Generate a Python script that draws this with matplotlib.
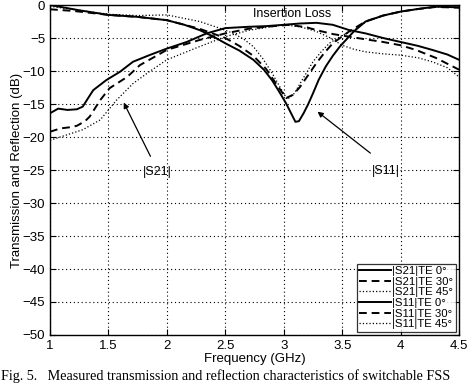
import numpy as np
import matplotlib.pyplot as plt

plt.rcParams['font.family'] = ['Liberation Sans', 'DejaVu Sans']

# |S21| transmission, TE 0/30/45 deg
f21_0 = [1.0, 1.07, 1.15, 1.23, 1.28, 1.33, 1.37, 1.48, 1.6, 1.71, 1.85, 2.0, 2.17, 2.34, 2.5,
         2.7, 2.85, 3.0, 3.14, 3.28, 3.42, 3.56, 3.7, 3.85, 4.0, 4.15, 4.27, 4.4, 4.5]
s21_0 = [-16.4, -15.7, -15.9, -15.8, -15.4, -14.0, -12.9, -11.4, -10.1, -8.6, -7.6, -6.6, -5.6, -4.3, -3.5,
         -3.3, -3.2, -3.0, -2.8, -2.7, -3.0, -3.8, -4.3, -5.0, -5.6, -6.2, -6.8, -7.5, -8.3]

f21_30 = [1.0, 1.09, 1.18, 1.23, 1.3, 1.34, 1.43, 1.51, 1.66, 1.77, 2.0, 2.28, 2.5,
          2.7, 2.85, 3.05, 3.2, 3.28, 3.42, 3.56, 3.7, 3.85, 4.0, 4.13, 4.3, 4.5]
s21_30 = [-19.2, -18.7, -18.5, -18.3, -17.6, -16.9, -14.4, -12.6, -10.9, -9.1, -6.8, -5.3, -4.3,
          -3.6, -3.3, -3.0, -3.4, -3.8, -4.4, -4.8, -5.2, -5.6, -6.1, -6.8, -8.0, -9.8]

f21_45 = [1.0, 1.14, 1.28, 1.43, 1.57, 1.71, 1.85, 2.0, 2.28, 2.5, 2.71, 3.0, 3.14, 3.28,
          3.4, 3.5, 3.6, 3.7, 3.85, 4.0, 4.15, 4.27, 4.4, 4.5]
s21_45 = [-20.5, -19.7, -18.9, -17.4, -14.4, -11.9, -10.1, -8.3, -6.3, -4.8, -3.8, -3.0, -3.3, -4.0,
          -5.0, -6.1, -6.7, -7.1, -7.4, -7.6, -8.0, -8.6, -9.5, -10.9]

# |S11| reflection, TE 0/30/45 deg
f11_0 = [1.0, 1.25, 1.5, 1.75, 2.0, 2.15, 2.28, 2.4, 2.5, 2.62, 2.74, 2.83, 2.9, 2.96, 3.02, 3.06,
         3.1, 3.13, 3.17, 3.21, 3.25, 3.3, 3.36, 3.42, 3.48, 3.6, 3.7, 3.85, 4.0, 4.15, 4.3, 4.5]
s11_0 = [0.0, -0.8, -1.5, -1.8, -2.3, -3.0, -3.8, -4.8, -5.8, -6.9, -8.3, -9.8, -11.4, -13.1, -14.9, -16.3,
         -17.7, -17.6, -16.4, -15.0, -13.4, -11.3, -9.3, -7.7, -6.3, -4.0, -2.5, -1.6, -1.0, -0.6, -0.25, -0.35]

f11_30 = [1.0, 1.2, 1.5, 1.75, 2.0, 2.28, 2.5, 2.62, 2.74, 2.85, 2.93, 3.02, 3.08, 3.14, 3.21,
          3.28, 3.35, 3.42, 3.56, 3.7, 3.85, 4.0, 4.15, 4.3, 4.5]
s11_30 = [-0.65, -0.9, -1.5, -1.8, -2.3, -3.6, -5.0, -6.2, -7.7, -9.7, -11.8, -14.1, -13.6, -12.4, -10.6,
          -8.8, -7.2, -5.8, -4.0, -2.5, -1.6, -1.0, -0.6, -0.3, -0.4]

f11_45 = [1.0, 1.25, 1.5, 1.75, 2.0, 2.28, 2.45, 2.57, 2.66, 2.74, 2.82, 2.9, 2.96, 3.03,
          3.09, 3.14, 3.2, 3.25, 3.32, 3.39, 3.5, 3.6, 3.7, 3.85, 4.0, 4.15, 4.3, 4.5]
s11_45 = [-0.2, -0.8, -1.4, -1.6, -1.5, -2.5, -3.5, -4.3, -5.2, -6.3, -8.1, -10.3, -12.2, -14.3,
          -13.4, -11.9, -10.1, -8.6, -7.1, -5.8, -4.6, -3.8, -2.6, -1.6, -1.0, -0.6, -0.3, -0.4]

xticks = [1, 1.5, 2, 2.5, 3, 3.5, 4, 4.5]
yticks = list(range(-50, 1, 5))

fig = plt.figure(figsize=(4.74, 3.88), dpi=100)
ax = fig.add_axes([0.1055, 0.1366, 0.8629, 0.8505])

lw = 1.4
ax.plot(f21_0, s21_0, 'k-', lw=lw, label='|S21|TE 0°')
ax.plot(f21_30, s21_30, 'k--', lw=lw, dashes=(4, 2.5), label='|S21|TE 30°')
ax.plot(f21_45, s21_45, 'k:', lw=0.9, label='|S21|TE 45°')
ax.plot(f11_0, s11_0, 'k-', lw=lw, label='|S11|TE 0°')
ax.plot(f11_30, s11_30, 'k--', lw=lw, dashes=(4, 2.5), label='|S11|TE 30°')
ax.plot(f11_45, s11_45, 'k:', lw=0.9, label='|S11|TE 45°')

ax.set_xlim(1, 4.5)
ax.set_ylim(-50, 0)
ax.set_xticks(xticks)
ax.set_xticklabels(['1', '1.5', '2', '2.5', '3', '3.5', '4', '4.5'])
ax.set_yticks(yticks)
ax.tick_params(direction='in', labelsize=9.5, length=4, top=True, right=True,
               labeltop=False, labelright=False)
ax.grid(True, color='k', linestyle=(0, (1, 2.5)), linewidth=0.8)
for s in ax.spines.values():
    s.set_linewidth(1.0)

ax.set_xlabel('Frequency (GHz)', fontsize=9.5, labelpad=1)
ax.set_ylabel('Transmission and Reflection (dB)', fontsize=9.5, labelpad=0)

ax.text(3.07, -1.3, 'Insertion Loss', fontsize=9, ha='center', va='center')
ax.annotate('', xy=(1.62, -14.4), xytext=(1.87, -23.3),
            arrowprops=dict(arrowstyle='-|>', color='k', lw=0.9, mutation_scale=8))
ax.text(1.92, -25.3, '|S21|', fontsize=9, ha='center', va='center')
ax.annotate('', xy=(3.27, -15.9), xytext=(3.76, -22.7),
            arrowprops=dict(arrowstyle='-|>', color='k', lw=0.9, mutation_scale=8))
ax.text(3.87, -25.1, '|S11|', fontsize=9, ha='center', va='center')

leg = ax.legend(loc='lower right', fontsize=8.2, frameon=True, fancybox=False,
                edgecolor='k', borderpad=0.2, labelspacing=0.06, handlelength=2.8,
                handletextpad=0.1, borderaxespad=0.3)
leg.get_frame().set_linewidth(0.9)

fig.text(0.003, 0.012, 'Fig. 5.   Measured transmission and reflection characteristics of switchable FSS',
         fontsize=10.2, family=['Liberation Serif'], va='bottom', ha='left')

fig.savefig('out.png', dpi=100)
